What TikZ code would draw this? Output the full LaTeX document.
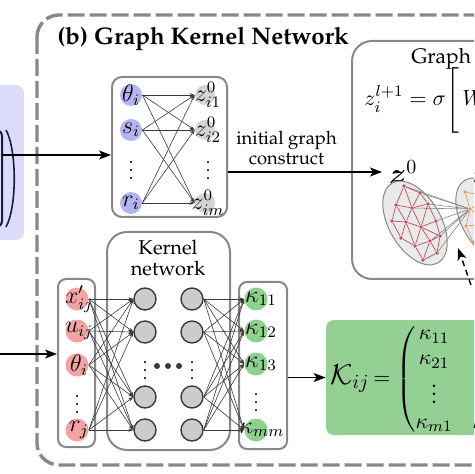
\documentclass[tikz,border=0pt]{standalone}
\usepackage[T1]{fontenc}
\renewcommand{\rmdefault}{ppl}
\usepackage{amsmath}
\usetikzlibrary{arrows.meta, positioning, fit}
\definecolor{gknLav}{HTML}{DCDCFA}
\definecolor{gknBlue}{HTML}{B4B4F2}
\definecolor{gknNavy}{HTML}{1C1C40}
\definecolor{gknRed}{HTML}{F2A4A4}
\definecolor{gknGreen}{HTML}{8ED08E}
\definecolor{gknBoxGreen}{HTML}{94D094}
\definecolor{gknGray}{HTML}{888888}
\definecolor{gknZ}{HTML}{D4D4D4}
\definecolor{gknHid}{HTML}{CCCCCC}
\definecolor{gknDark}{HTML}{3A3A3A}
\definecolor{gknMesh}{HTML}{C24E5A}
\definecolor{gknOrange}{HTML}{E39A5A}

\begin{document}
\begin{tikzpicture}[
    x=0.5pt, y=-0.5pt,
    frame/.style={draw=gknGray, line width=1.7pt, dash pattern=on 8.5pt off 2.5pt,
                  rounded corners=11pt},
    grp/.style={draw=gknGray, line width=1pt, inner sep=0pt},
    featnode/.style={circle, fill=gknBlue, minimum size=11pt, inner sep=0pt},
    znode/.style={circle, fill=gknZ, minimum size=10pt, inner sep=0pt},
    innode/.style={circle, fill=gknRed, minimum size=11.5pt, inner sep=0pt},
    hidnode/.style={circle, draw=gknDark, line width=0.7pt, fill=gknHid,
                    minimum size=11pt, inner sep=0pt},
    outnode/.style={circle, fill=gknGreen, minimum size=11.5pt, inner sep=0pt},
    every label/.style={font=\fontsize{11.5}{13}\selectfont, inner sep=0pt},
    lnk/.style={-{Stealth[length=2.5pt, width=1.8pt]}, line width=0.3pt, gknDark},
    arr/.style={-{Stealth[length=6pt, width=4.5pt, inset=1.5pt]}, line width=0.7pt},
    mesh/.style={gknMesh, line width=0.35pt},
    reddot/.style={circle, fill=gknMesh, minimum size=1.8pt, inner sep=0pt},
    orgdot/.style={circle, fill=gknOrange, minimum size=1.8pt, inner sep=0pt},
  ]
    \useasboundingbox (0,0) rectangle (474,474);
    \clip (0,0) rectangle (474,474);

    % left input (cut off)
    \fill[gknLav, rounded corners=4pt] (-20,85) rectangle (24,240);
    \node[draw=gknNavy, line width=1pt, rounded corners=3pt, inner sep=0pt,
          fit={(-40,130) (2,227)}] (inmat) {};
    \draw[gknNavy, line width=0.8pt] (6,130) .. controls (17,150) and (17,207) .. (6,227);

    % dashed frame
    \draw[frame] (37,15) rectangle (560,465);
    \node[anchor=base west, inner sep=0pt, font=\fontsize{12}{14}\selectfont\bfseries]
      (title) at (57,45) {(b) Graph Kernel Network};

    % initial features
    \node[grp, rounded corners=5pt, fit={(112,77) (227,217)}] (feat) {};
    \node[featnode, label=center:$\theta_i$] (f1) at (131,95) {};
    \node[featnode, label=center:$s_i$] (f2) at (131,130) {};
    \node[featnode, label=center:$r_i$] (f3) at (131,203) {};
    \node[font=\small] (fd) at (131,164) {$\vdots$};
    \node[znode, label={[xshift=1.5pt]center:$z^0_{i1}$}] (z1) at (205,95) {};
    \node[znode, label={[xshift=1.5pt]center:$z^0_{i2}$}] (z2) at (205,130) {};
    \node[znode, label={[xshift=1.5pt]center:$z^0_{im}$}] (z3) at (205,203) {};
    \node[font=\small] (zd) at (208,164) {$\vdots$};
    \foreach \a in {1,2,3}
      \foreach \b in {1,2,3}
        \draw[lnk] (f\a.east) -- (z\b.west);

    \coordinate (inarr) at (2,155);
    \draw[arr] (inarr) -- (inarr -| feat.west);

    % graph part
    \node[grp, rounded corners=10pt, fit={(352,41) (540,279)}] (graph) {};
    \node[anchor=base west, inner sep=0pt, font=\fontsize{10.5}{12}\selectfont]
      (gtitle) at (411,64) {Graph};
    \node[anchor=base west, inner sep=0pt, font=\fontsize{11}{12}\selectfont] (upd)
      at (364,106) {$z_i^{l+1} = \sigma\Bigg[\,W z_j^{l}$};
    \node[anchor=west, font=\Large] (z0lab) at (382,172) {$\boldsymbol{z}^0$};
    \node[anchor=west, font=\Large] (z1lab) at (464,172) {$\boldsymbol{z}^1$};

    \draw[arr] (feat.east |- z0lab.west) -- (z0lab.west)
      node[above, pos=0.38, align=center, font=\fontsize{9.2}{9.8}\selectfont]
      {initial graph\\construct};

    \draw[gknGray, line width=0.5pt, fill=gknZ!50, rotate around={-60:(415,223)}]
      (415,223) ellipse [x radius=23pt, y radius=13pt];
    \draw[gknGray, line width=0.5pt, fill=gknZ!50, rotate around={-60:(488,220)}]
      (488,220) ellipse [x radius=23pt, y radius=13pt];

    \foreach \n/\px/\py in {1/404/186, 2/420/193, 3/428/204, 4/396/205, 5/412/208,
        6/392/221, 7/406/222, 8/436/221, 9/421/227, 10/440/236, 11/401/238,
        12/430/241, 13/415/246, 14/437/253, 15/423/260}
      \node[reddot] (r\n) at (\px,\py) {};
    \foreach \n/\px/\py in {1/465/192, 2/470/209, 3/466/226, 4/473/242, 5/490/197, 6/488/224}
      \node[orgdot] (o\n) at (\px,\py) {};

    \foreach \b in {1,2,3,5,8,10,12,14}
      \draw[gknGray, line width=0.3pt] (o2) -- (r\b);
    \foreach \a/\b in {1/2, 1/4, 1/5, 2/3, 2/5, 3/5, 3/8, 4/5, 4/6, 5/7, 4/7, 6/7,
        5/9, 7/9, 3/9, 8/9, 8/10, 9/10, 9/12, 10/12, 7/11, 6/11, 11/13, 7/13,
        9/13, 12/13, 12/14, 10/14, 13/15, 12/15, 14/15}
      \draw[mesh] (r\a) -- (r\b);
    \foreach \a/\b in {1/2, 2/3, 1/5, 2/5, 2/6, 3/6, 3/4}
      \draw[gknOrange, line width=0.35pt] (o\a) -- (o\b);

    \coordinate (dtail) at (471,285);
    \coordinate (dtip) at (458,248);
    \draw[arr, dash pattern=on 3pt off 2pt] (dtail) -- (dtip);

    % kernel network
    \node[grp, rounded corners=4pt, fit={(58,279) (95,447)}] (inbox) {};
    \node[innode, label={[xshift=1pt]center:$x'_{ij}$}] (x1) at (77,299) {};
    \node[innode, label={[xshift=1pt]center:$u_{ij}$}] (x2) at (77,331) {};
    \node[innode, label={[xshift=1pt]center:$\theta_i$}] (x3) at (77,365) {};
    \node[innode, label={[xshift=1pt]center:$r_j$}] (x4) at (77,430) {};
    \node[font=\small] (xd) at (77,398) {$\vdots$};

    \node[grp, rounded corners=10pt, fit={(107,232) (230,450)}] (knet) {};
    \node[align=center, font=\fontsize{10}{10.5}\selectfont] (klab) at (168,258)
      {Kernel\\network};
    \foreach \n/\py in {1/299, 2/332, 3/397, 4/430} {
      \node[hidnode] (h\n) at (145,\py) {};
      \node[hidnode] (g\n) at (192,\py) {};
    }
    \node[font=\small] (hd) at (145,364) {$\vdots$};
    \node[font=\small] (gd) at (192,364) {$\vdots$};
    \foreach \xx in {157,168,179}
      \fill[gknDark] (\xx,366) circle (1.5pt);

    \node[grp, rounded corners=4pt, fit={(239,282) (287,449)}] (outbox) {};
    \node[outnode, label={[xshift=2.5pt]center:$\kappa_{11}$}] (k1) at (256,299) {};
    \node[outnode, label={[xshift=2.5pt]center:$\kappa_{12}$}] (k2) at (256,331) {};
    \node[outnode, label={[xshift=2.5pt]center:$\kappa_{13}$}] (k3) at (256,364) {};
    \node[outnode, label={[xshift=3pt]center:$\kappa_{mm}$}] (k4) at (256,430) {};
    \node[font=\small] (kd) at (256,396) {$\vdots$};

    \foreach \a in {1,2,3,4}
      \foreach \b in {1,2,3,4} {
        \draw[lnk] (x\a.east) -- (h\b.west);
        \draw[lnk] (g\a.east) -- (k\b.west);
      }

    \coordinate (lowarr) at (-5,354);
    \draw[arr] (lowarr) -- (lowarr -| inbox.west);

    % kernel matrix
    \node[fill=gknBoxGreen, rounded corners=4pt, inner sep=0pt,
          fit={(326,320) (560,435)}] (kbox) {};
    \node[anchor=west, font=\fontsize{11}{12.5}\selectfont, inner sep=0pt] (kmat)
      at (330,379)
      {{\Large$\mathcal{K}_{ij}$}\,$=\begin{pmatrix}
        \kappa_{11} & \kappa_{12} & \cdots & \kappa_{1m}\\
        \kappa_{21} & \kappa_{22} & \cdots & \kappa_{2m}\\
        \vdots & \vdots & \ddots & \vdots\\
        \kappa_{m1} & \kappa_{m2} & \cdots & \kappa_{mm}
      \end{pmatrix}$};
    \draw[arr] (kbox.west -| outbox.east) -- (kbox.west);
\end{tikzpicture}
\end{document}
